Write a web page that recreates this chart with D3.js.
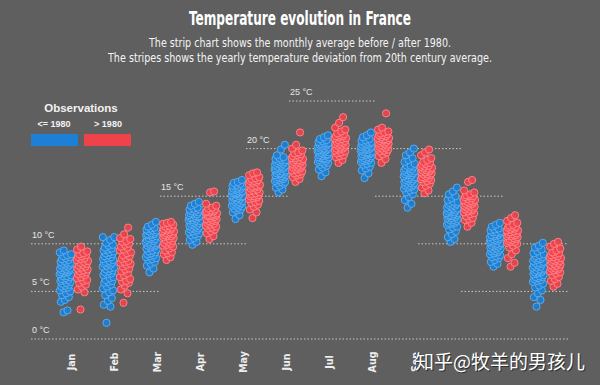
<!DOCTYPE html>
<html>
<head>
<meta charset="utf-8">
<script src="https://cdn.jsdelivr.net/npm/d3@7"></script>
<style>
  body { margin: 0; background: #5f5f5f; }
  svg { display: block; }
</style>
</head>
<body>
<svg id="chart" width="600" height="385"></svg>
<script>
var months = ['Jan', 'Feb', 'Mar', 'Apr', 'May', 'Jun', 'Jul', 'Aug', 'Sep', 'Oct', 'Nov', 'Dec'];

// monthly average temperature (°C), one list per month
var tempsBefore1980 = [
    [2.8, 3.0, 3.9, 4.1, 4.4, 4.6, 4.8, 5.0, 5.1, 5.3, 5.4, 5.5, 5.6, 5.7, 5.8, 5.9, 6.0, 6.1, 6.2, 6.2, 6.3, 6.4, 6.5, 6.6, 6.6, 6.7, 6.8, 6.9, 7.0, 7.0, 7.1, 7.2, 7.2, 7.3, 7.4, 7.4, 7.5, 7.6, 7.7, 7.8, 7.8, 7.9, 8.0, 8.0, 8.1, 8.2, 8.3, 8.4, 8.5, 8.6, 8.7, 8.8, 8.9, 9.1, 9.3],
    [1.7, 3.4, 3.6, 4.0, 4.3, 4.6, 4.9, 5.1, 5.3, 5.5, 5.7, 5.9, 6.0, 6.1, 6.2, 6.4, 6.5, 6.7, 6.8, 6.9, 7.0, 7.1, 7.2, 7.3, 7.4, 7.5, 7.6, 7.7, 7.8, 7.9, 8.0, 8.0, 8.1, 8.2, 8.3, 8.4, 8.5, 8.6, 8.7, 8.8, 8.9, 9.0, 9.1, 9.2, 9.3, 9.4, 9.5, 9.6, 9.8, 9.9, 10.1, 10.4, 10.7, 10.7],
    [7.0, 7.4, 7.7, 7.9, 8.1, 8.3, 8.4, 8.5, 8.6, 8.7, 8.8, 8.9, 9.0, 9.1, 9.2, 9.3, 9.4, 9.5, 9.6, 9.7, 9.8, 9.8, 9.9, 10.0, 10.0, 10.1, 10.2, 10.2, 10.3, 10.4, 10.5, 10.5, 10.6, 10.7, 10.8, 10.9, 10.9, 11.0, 11.0, 11.1, 11.2, 11.3, 11.4, 11.4, 11.5, 11.6, 11.7, 11.8, 12.0, 12.3],
    [9.9, 10.2, 10.4, 10.6, 10.8, 10.9, 11.0, 11.1, 11.2, 11.3, 11.4, 11.5, 11.6, 11.6, 11.7, 11.8, 11.8, 11.9, 12.0, 12.0, 12.1, 12.2, 12.2, 12.3, 12.4, 12.4, 12.5, 12.5, 12.6, 12.7, 12.7, 12.8, 12.8, 12.9, 12.9, 13.0, 13.1, 13.1, 13.2, 13.3, 13.3, 13.4, 13.5, 13.6, 13.6, 13.7, 13.8, 14.0, 14.2, 14.4],
    [12.6, 13.0, 13.3, 13.5, 13.6, 13.7, 13.8, 13.9, 14.0, 14.0, 14.1, 14.2, 14.2, 14.3, 14.4, 14.4, 14.5, 14.6, 14.6, 14.7, 14.8, 14.8, 14.9, 14.9, 15.0, 15.0, 15.1, 15.2, 15.2, 15.3, 15.3, 15.4, 15.4, 15.5, 15.5, 15.6, 15.7, 15.7, 15.8, 15.8, 15.9, 16.0, 16.0, 16.1, 16.1, 16.2, 16.3, 16.4, 16.5, 16.7],
    [15.4, 15.7, 15.9, 16.1, 16.3, 16.4, 16.5, 16.5, 16.6, 16.7, 16.8, 16.8, 16.9, 17.0, 17.0, 17.1, 17.2, 17.2, 17.3, 17.3, 17.4, 17.4, 17.5, 17.6, 17.6, 17.7, 17.8, 17.8, 17.9, 17.9, 18.0, 18.0, 18.1, 18.2, 18.2, 18.3, 18.4, 18.4, 18.5, 18.6, 18.6, 18.7, 18.8, 18.8, 18.9, 19.0, 19.1, 19.3, 19.9, 20.4],
    [17.1, 17.5, 17.8, 18.0, 18.2, 18.3, 18.4, 18.5, 18.6, 18.6, 18.7, 18.8, 18.9, 18.9, 19.0, 19.0, 19.1, 19.1, 19.2, 19.3, 19.3, 19.4, 19.4, 19.5, 19.6, 19.6, 19.7, 19.7, 19.8, 19.8, 19.9, 19.9, 20.0, 20.0, 20.1, 20.2, 20.2, 20.3, 20.4, 20.4, 20.5, 20.5, 20.6, 20.6, 20.7, 20.8, 20.9, 21.0, 21.2, 21.4],
    [16.9, 17.4, 17.7, 17.9, 18.1, 18.3, 18.4, 18.5, 18.6, 18.7, 18.8, 18.8, 18.9, 19.0, 19.0, 19.1, 19.2, 19.2, 19.3, 19.4, 19.4, 19.5, 19.5, 19.6, 19.6, 19.7, 19.8, 19.8, 19.9, 19.9, 20.0, 20.0, 20.1, 20.1, 20.2, 20.2, 20.3, 20.4, 20.4, 20.5, 20.6, 20.6, 20.7, 20.7, 20.8, 20.9, 21.0, 21.2, 21.4, 21.7],
    [13.8, 14.2, 14.6, 14.9, 15.2, 15.4, 15.6, 15.7, 15.8, 15.9, 16.0, 16.1, 16.1, 16.2, 16.3, 16.4, 16.4, 16.5, 16.6, 16.6, 16.7, 16.8, 16.8, 16.9, 17.0, 17.0, 17.1, 17.2, 17.2, 17.3, 17.4, 17.4, 17.5, 17.6, 17.6, 17.7, 17.8, 17.8, 17.9, 18.0, 18.1, 18.2, 18.2, 18.4, 18.6, 18.8, 19.0, 19.3, 19.6, 20.0],
    [10.2, 10.5, 10.7, 11.0, 11.3, 11.5, 11.7, 11.8, 12.0, 12.1, 12.2, 12.2, 12.3, 12.4, 12.5, 12.5, 12.6, 12.7, 12.7, 12.8, 12.9, 12.9, 13.0, 13.0, 13.1, 13.2, 13.2, 13.3, 13.3, 13.4, 13.5, 13.5, 13.6, 13.7, 13.7, 13.8, 13.9, 14.0, 14.1, 14.1, 14.2, 14.3, 14.4, 14.4, 14.6, 14.8, 15.0, 15.2, 15.5, 15.9],
    [7.6, 7.9, 8.1, 8.3, 8.5, 8.6, 8.7, 8.8, 8.9, 9.0, 9.1, 9.2, 9.2, 9.3, 9.4, 9.5, 9.5, 9.6, 9.7, 9.7, 9.8, 9.9, 9.9, 10.0, 10.0, 10.1, 10.2, 10.2, 10.3, 10.3, 10.4, 10.5, 10.5, 10.6, 10.7, 10.7, 10.8, 10.9, 10.9, 11.0, 11.1, 11.2, 11.2, 11.3, 11.4, 11.5, 11.6, 11.8, 12.0, 12.2],
    [3.4, 4.1, 4.4, 4.8, 5.1, 5.4, 5.6, 5.8, 6.0, 6.1, 6.2, 6.3, 6.4, 6.5, 6.5, 6.6, 6.7, 6.8, 6.9, 7.0, 7.0, 7.1, 7.2, 7.2, 7.3, 7.4, 7.5, 7.5, 7.6, 7.7, 7.8, 7.9, 8.0, 8.0, 8.1, 8.2, 8.3, 8.4, 8.5, 8.5, 8.6, 8.7, 8.8, 8.9, 9.0, 9.2, 9.4, 9.6, 9.8, 10.1]
];

var tempsAfter1980 = [
    [3.1, 4.9, 5.2, 5.5, 5.7, 5.9, 6.1, 6.2, 6.4, 6.5, 6.7, 6.8, 6.9, 7.0, 7.1, 7.2, 7.3, 7.4, 7.5, 7.6, 7.7, 7.8, 7.9, 8.0, 8.1, 8.2, 8.3, 8.4, 8.5, 8.6, 8.7, 8.8, 8.9, 9.0, 9.2, 9.4, 9.7],
    [3.8, 4.8, 5.2, 5.6, 5.9, 6.0, 6.1, 6.3, 6.5, 6.7, 6.9, 7.1, 7.3, 7.4, 7.6, 7.8, 7.9, 8.0, 8.1, 8.2, 8.4, 8.5, 8.7, 8.8, 9.0, 9.1, 9.3, 9.4, 9.6, 9.7, 9.9, 10.0, 10.2, 10.3, 10.5, 10.6, 11.0, 11.7],
    [8.3, 8.6, 8.9, 9.0, 9.1, 9.3, 9.5, 9.7, 9.8, 9.9, 10.0, 10.1, 10.2, 10.3, 10.4, 10.5, 10.6, 10.7, 10.8, 10.8, 10.9, 11.0, 11.0, 11.1, 11.2, 11.3, 11.3, 11.4, 11.5, 11.5, 11.6, 11.7, 11.8, 11.9, 12.0, 12.1, 12.2, 12.3],
    [10.5, 10.8, 11.1, 11.3, 11.5, 11.6, 11.7, 11.8, 11.9, 12.0, 12.1, 12.2, 12.3, 12.4, 12.4, 12.5, 12.6, 12.6, 12.7, 12.8, 12.9, 12.9, 13.0, 13.0, 13.1, 13.2, 13.3, 13.3, 13.4, 13.4, 13.5, 13.6, 13.7, 13.8, 14.0, 14.2, 15.4, 15.5],
    [12.7, 13.3, 13.6, 13.9, 14.1, 14.3, 14.4, 14.5, 14.7, 14.8, 14.9, 15.0, 15.0, 15.1, 15.2, 15.3, 15.4, 15.5, 15.6, 15.7, 15.8, 15.9, 16.0, 16.0, 16.1, 16.2, 16.3, 16.4, 16.5, 16.6, 16.6, 16.7, 16.8, 16.9, 17.0, 17.2, 17.4, 17.5],
    [16.5, 16.8, 17.0, 17.2, 17.3, 17.4, 17.5, 17.6, 17.7, 17.8, 17.9, 18.0, 18.0, 18.1, 18.2, 18.2, 18.3, 18.4, 18.4, 18.5, 18.6, 18.6, 18.7, 18.8, 18.8, 18.9, 19.0, 19.0, 19.1, 19.2, 19.3, 19.4, 19.5, 19.6, 19.8, 20.0, 20.4, 21.7],
    [18.5, 18.8, 19.1, 19.2, 19.3, 19.5, 19.6, 19.7, 19.8, 19.9, 20.0, 20.0, 20.1, 20.2, 20.3, 20.3, 20.4, 20.5, 20.5, 20.6, 20.7, 20.7, 20.8, 20.9, 21.0, 21.1, 21.1, 21.2, 21.3, 21.3, 21.4, 21.5, 21.6, 21.8, 22.0, 22.2, 22.7, 23.3],
    [18.5, 18.9, 19.2, 19.4, 19.6, 19.7, 19.8, 19.9, 20.0, 20.0, 20.1, 20.2, 20.3, 20.3, 20.4, 20.5, 20.5, 20.6, 20.7, 20.7, 20.8, 20.9, 20.9, 21.0, 21.0, 21.1, 21.1, 21.2, 21.3, 21.4, 21.4, 21.5, 21.6, 21.7, 21.8, 22.0, 22.2, 23.7],
    [15.3, 15.6, 15.9, 16.1, 16.3, 16.5, 16.6, 16.7, 16.8, 16.9, 16.9, 17.0, 17.1, 17.2, 17.3, 17.3, 17.4, 17.5, 17.5, 17.6, 17.7, 17.7, 17.8, 17.9, 17.9, 18.0, 18.1, 18.1, 18.2, 18.3, 18.4, 18.5, 18.6, 18.8, 19.0, 19.3, 19.6, 19.9],
    [11.8, 12.2, 12.5, 12.6, 12.7, 12.9, 13.1, 13.2, 13.3, 13.4, 13.5, 13.6, 13.6, 13.7, 13.8, 13.9, 13.9, 14.0, 14.1, 14.2, 14.2, 14.3, 14.4, 14.4, 14.5, 14.6, 14.6, 14.7, 14.8, 14.9, 15.0, 15.0, 15.1, 15.2, 15.4, 15.6, 16.5, 16.7],
    [7.6, 8.0, 8.5, 8.9, 9.3, 9.6, 9.8, 10.0, 10.1, 10.2, 10.2, 10.3, 10.4, 10.5, 10.5, 10.6, 10.7, 10.8, 10.8, 10.9, 11.0, 11.0, 11.1, 11.2, 11.3, 11.4, 11.4, 11.5, 11.6, 11.7, 11.7, 11.8, 11.9, 12.0, 12.2, 12.4, 12.7, 13.0],
    [5.5, 5.8, 6.1, 6.3, 6.5, 6.7, 6.9, 7.0, 7.1, 7.2, 7.3, 7.4, 7.4, 7.5, 7.6, 7.7, 7.8, 7.8, 7.9, 8.0, 8.1, 8.2, 8.2, 8.3, 8.4, 8.5, 8.6, 8.6, 8.7, 8.8, 8.9, 9.0, 9.1, 9.3, 9.5, 9.7, 10.0, 10.2]
];

// reference lines: temperature and the month ranges they run over
var gridTemps = [0, 5, 10, 15, 20, 25];
var gridSpans = [
    [[-1, 11.5]],
    [[-1, 2], [9, 11.5]],
    [[-1, 4], [8, 11.5]],
    [[2, 5], [7, 10]],
    [[4, 9]],
    [[5, 7]]
];

var legendLabels = ['<= 1980', '> 1980'];

var width = 600;
var height = 385;
var bg = '#5f5f5f';
var condensed = '"Liberation Sans Narrow", "DejaVu Sans Condensed", sans-serif';
var sans = '"Liberation Sans", Arial, sans-serif';

var svg = d3.select('#chart');

svg.append('rect')
    .attr('width', width)
    .attr('height', height)
    .attr('fill', bg);

var x = d3.scaleLinear().domain([0, 11]).range([74, 547]);
var y = d3.scaleLinear().domain([0, 25]).range([339, 101]);

// van der corput sequence, used to spread dots sideways inside a strip
function spread(n, base) {
    var v = 0;
    var d = 1;
    while (n > 0) {
        d *= base;
        v += (n % base) / d;
        n = Math.floor(n / base);
    }
    return v;
}

// title block
svg.append('text')
    .attr('x', 300).attr('y', 25)
    .attr('text-anchor', 'middle')
    .attr('font-family', condensed)
    .attr('font-weight', 'bold')
    .attr('font-size', 19)
    .attr('textLength', 222)
    .attr('lengthAdjust', 'spacingAndGlyphs')
    .attr('fill', '#ffffff')
    .text('Temperature evolution in France');

var subtitle = [
    ['The strip chart shows the monthly average before / after 1980.', 47, 302],
    ['The stripes shows the yearly temperature deviation from 20th century average.', 62, 384]
];
subtitle.forEach(function (s) {
    svg.append('text')
        .attr('x', 300).attr('y', s[1])
        .attr('text-anchor', 'middle')
        .attr('font-family', condensed)
        .attr('font-size', 13)
        .attr('textLength', s[2])
        .attr('lengthAdjust', 'spacingAndGlyphs')
        .attr('fill', '#f4f4f4')
        .text(s[0]);
});

// dotted reference lines and their labels
var grid = svg.append('g');
gridTemps.forEach(function (t, k) {
    gridSpans[k].forEach(function (span) {
        grid.append('line')
            .attr('x1', x(span[0]))
            .attr('x2', x(span[1]))
            .attr('y1', y(t))
            .attr('y2', y(t))
            .attr('stroke', '#c8c8c8')
            .attr('stroke-width', 1)
            .attr('stroke-dasharray', '1.5,2');
    });
    grid.append('text')
        .attr('x', x(gridSpans[k][0][0]) + 1)
        .attr('y', y(t) - 6)
        .attr('font-family', sans)
        .attr('font-size', 9)
        .attr('fill', '#e6e6e6')
        .text(t + ' °C');
});

// strips
var periods = [
    {temps: tempsBefore1980, shift: -8.5, fill: '#1d7fd5', stroke: '#5aaced'},
    {temps: tempsAfter1980, shift: 8.5, fill: '#ef434c', stroke: '#ff8187'}
];
var jitter = 12;

periods.forEach(function (p) {
    p.temps.forEach(function (vals, m) {
        var sorted = vals.slice().sort(d3.ascending);
        svg.append('g')
            .selectAll('circle')
            .data(sorted)
            .join('circle')
            .attr('cx', function (d, i) { return x(m) + p.shift + (spread(i + 1, 3) - 0.5) * jitter; })
            .attr('cy', function (d) { return y(d); })
            .attr('r', 3.6)
            .attr('fill', p.fill)
            .attr('fill-opacity', 0.9)
            .attr('stroke', p.stroke)
            .attr('stroke-width', 1);
    });
});

// month labels
svg.append('g')
    .selectAll('text')
    .data(months)
    .join('text')
    .attr('transform', function (d, i) { return 'translate(' + (x(i) - 3) + ',362) rotate(-90)'; })
    .attr('dy', '0.35em')
    .attr('text-anchor', 'middle')
    .attr('font-family', condensed)
    .attr('font-weight', 'bold')
    .attr('font-size', 10.5)
    .attr('fill', '#eeeeee')
    .text(function (d) { return d; });

// legend
var legend = svg.append('g');
legend.append('text')
    .attr('x', 81).attr('y', 112)
    .attr('text-anchor', 'middle')
    .attr('font-family', sans)
    .attr('font-weight', 'bold')
    .attr('font-size', 11.5)
    .attr('fill', '#f2f2f2')
    .text('Observations');

legendLabels.forEach(function (label, i) {
    legend.append('text')
        .attr('x', 54 + i * 54).attr('y', 127)
        .attr('text-anchor', 'middle')
        .attr('font-family', sans)
        .attr('font-weight', 'bold')
        .attr('font-size', 9)
        .attr('fill', '#f2f2f2')
        .text(label);
    legend.append('rect')
        .attr('x', 31 + i * 53).attr('y', 134)
        .attr('width', 47).attr('height', 12)
        .attr('fill', periods[i].fill);
});

// watermark pasted over the lower right corner
svg.append('rect')
    .attr('x', 416).attr('y', 344)
    .attr('width', 184).attr('height', 36)
    .attr('fill', bg);
svg.append('text')
    .attr('x', 416).attr('y', 370)
    .attr('font-family', '"Noto Sans CJK SC", sans-serif')
    .attr('font-size', 19)
    .attr('fill', '#2e2e2e')
    .text('知乎@牧羊的男孩儿');
svg.append('text')
    .attr('x', 415).attr('y', 369)
    .attr('font-family', '"Noto Sans CJK SC", sans-serif')
    .attr('font-size', 19)
    .attr('fill', '#ffffff')
    .text('知乎@牧羊的男孩儿');
</script>
</body>
</html>
